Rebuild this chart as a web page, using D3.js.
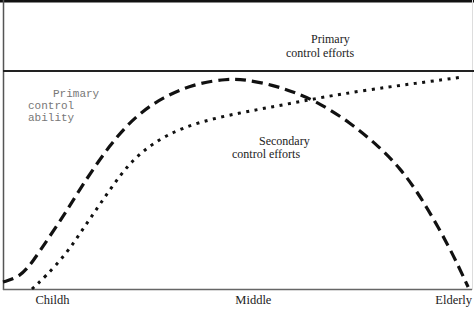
<!DOCTYPE html>
<html><head><meta charset="utf-8">
<script src="https://cdn.jsdelivr.net/npm/d3@7"></script>
<style>html,body{margin:0;padding:0;background:#fff;}svg{display:block;}</style>
</head><body><svg id="c" width="474" height="311"></svg>
<script>
// Life span (0-100) vs level (0-100); level 100 = primary control efforts line
const abilityAge   = [0, 3.6, 6.4, 10.1, 13.7, 16.5, 22.9, 28.7, 34.3, 40.7, 48.0, 52.2, 57.8, 62.1, 67.2, 74.3, 80.7, 85.0, 89.3, 95.7, 99.6];
const abilityLevel = [3.2, 5.5, 12.5, 24.5, 36.0, 46.0, 66.5, 80.0, 88.0, 94.0, 96.5, 96.0, 93.5, 90.5, 86.0, 76.5, 65.0, 55.5, 43.0, 19.0, 0.9];
const secondaryAge   = [6.2, 9.0, 13.7, 17.1, 20.8, 25.1, 29.3, 35.1, 42.2, 50.7, 57.8, 65.1, 72.2, 82.9, 90.0, 98.3];
const secondaryLevel = [0, 5.5, 16.5, 27.5, 39.0, 52.5, 62.5, 71.0, 76.8, 80.8, 83.6, 86.6, 89.4, 92.8, 94.8, 97.2];
const primaryEffortLevel = 100;
const tickPos = [10.5, 53.5, 96.4];
const tickLabels = ["Childh", "Middle", "Elderly"];

const svg = d3.select("#c");
const x = d3.scaleLinear().domain([0, 100]).range([3, 470]);
const y = d3.scaleLinear().domain([0, 100]).range([289, 71]);

// frame
svg.append("line").attr("x1", 0).attr("x2", 474).attr("y1", 1).attr("y2", 1).attr("stroke", "#111").attr("stroke-width", 3);
svg.append("line").attr("x1", 3.5).attr("x2", 3.5).attr("y1", 0).attr("y2", 290).attr("stroke", "#555").attr("stroke-width", 1.5);
svg.append("line").attr("x1", 472.5).attr("x2", 472.5).attr("y1", 0).attr("y2", 290).attr("stroke", "#ddd").attr("stroke-width", 1);
svg.append("line").attr("x1", 3).attr("x2", 474).attr("y1", y(primaryEffortLevel)).attr("y2", y(primaryEffortLevel)).attr("stroke", "#222").attr("stroke-width", 2);

// x axis
const ax = svg.append("g").attr("transform", "translate(0,289.5)")
  .call(d3.axisBottom(x).tickValues(tickPos).tickFormat((d, i) => tickLabels[i]).tickSize(0).tickPadding(6));
ax.select(".domain").attr("d", "M3,0H472").attr("stroke", "#666").attr("stroke-width", 1.5);
ax.selectAll("text").attr("font-family", "'Liberation Serif', serif").attr("font-size", 12.5).attr("fill", "#222");

const line = d3.line().x(d => x(d[0])).y(d => y(d[1])).curve(d3.curveBasis);

svg.append("path").datum(abilityAge.map((a, i) => [a, abilityLevel[i]]))
  .attr("d", line).attr("fill", "none").attr("stroke", "#111").attr("stroke-width", 3.2)
  .attr("stroke-dasharray", "11,6");
svg.append("path").datum(secondaryAge.map((a, i) => [a, secondaryLevel[i]]))
  .attr("d", line).attr("fill", "none").attr("stroke", "#111").attr("stroke-width", 3)
  .attr("stroke-dasharray", "3,5.5");

// labels
const serif = "'Liberation Serif', serif";
function t(txt, px, py, fam, fs, col) {
  svg.append("text").attr("x", px).attr("y", py).text(txt)
    .attr("font-family", fam).attr("font-size", fs).attr("fill", col);
}
t("Primary", 311, 43, serif, 12, "#222");
t("control efforts", 286, 57, serif, 12, "#222");
t("Secondary", 259, 145, serif, 12, "#222");
t("control efforts", 232, 158, serif, 12, "#222");
const mono = "'Liberation Mono', monospace";
t("Primary", 53, 97, mono, 11, "#777");
t("control", 28, 109, mono, 11, "#777");
t("ability", 28, 121, mono, 11, "#777");
</script></body></html>
